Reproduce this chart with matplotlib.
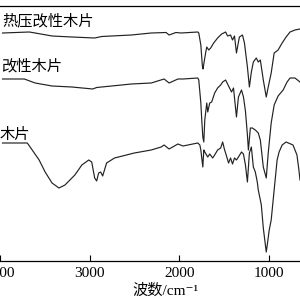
import matplotlib
matplotlib.use("Agg")
import matplotlib.pyplot as plt

plt.rcParams["font.family"] = ["Liberation Serif", "Noto Sans CJK SC", "DejaVu Sans"]

# 热压改性木片 (top curve)
wn_hot = [3972, 3674, 3608, 3420, 3199, 2945, 2867, 2536, 2315, 2149, 2116, 2039,
          1983, 1796, 1785, 1762, 1745, 1737, 1729, 1707, 1696, 1674, 1652, 1619,
          1575, 1530, 1486, 1464, 1431, 1409, 1387, 1365, 1343, 1332, 1298, 1276,
          1243, 1221, 1199, 1177, 1144, 1122, 1099, 1066, 1033, 1011, 978, 945,
          901, 856, 812, 768, 713, 657]
t_hot = [228, 229, 228, 225, 224, 223, 224.5, 226, 228, 228.5, 226, 228.5,
         228, 229, 228, 216, 195, 192, 197, 209, 214, 211, 213, 218,
         223, 227, 229, 225, 226, 221, 225, 208, 219, 224, 226, 218,
         194, 174, 189, 199, 203, 199, 201, 181, 164, 174, 188, 208,
         211, 218, 224, 229, 231, 232]

# 改性木片 (middle curve)
wn_mod = [3972, 3729, 3608, 3420, 3199, 2967, 2923, 2757, 2536, 2315, 2171, 2116,
          2017, 1961, 1796, 1785, 1762, 1751, 1740, 1729, 1718, 1696, 1685, 1663,
          1641, 1608, 1575, 1541, 1519, 1486, 1453, 1420, 1398, 1365, 1343, 1309,
          1287, 1265, 1243, 1232, 1210, 1188, 1155, 1122, 1099, 1066, 1033, 1011,
          978, 945, 901, 845, 801, 768, 713, 657]
t_mod = [182, 182, 178, 175, 174, 172, 173.5, 175, 177, 178, 182, 178,
         182, 182, 183, 181, 158, 140, 124, 119, 141, 158, 149, 158,
         159, 168, 173, 176, 179, 181, 175, 169, 173, 144, 164, 171,
         164, 150, 126, 111, 133, 133, 131, 128, 121, 94, 83, 108,
         138, 156, 165, 171, 179, 183, 183, 179]

# 木片 (bottom curve)
wn_raw = [3972, 3696, 3641, 3564, 3497, 3420, 3343, 3276, 3166, 3088, 3011, 2978,
          2945, 2923, 2901, 2878, 2856, 2812, 2724, 2503, 2315, 2204, 2171, 2116,
          2017, 1961, 1796, 1773, 1762, 1740, 1729, 1718, 1685, 1663, 1630, 1608,
          1575, 1541, 1519, 1497, 1486, 1453, 1431, 1409, 1387, 1365, 1343, 1309,
          1287, 1265, 1243, 1221, 1199, 1177, 1155, 1133, 1122, 1099, 1088, 1066,
          1033, 1022, 1000, 978, 956, 934, 912, 890, 856, 812, 735, 691, 669, 657]
t_raw = [118, 118, 111, 101, 89, 78, 73, 76, 86, 96, 101, 99,
         83, 80, 88, 89, 85, 98, 103, 108, 111, 114, 116, 112,
         117, 115, 118, 116, 111, 94, 111, 109, 104, 107, 103, 106,
         111, 113, 119, 111, 108, 98, 103, 97, 103, 101, 104, 109,
         107, 96, 79, 108, 114, 94, 89, 79, 71, 61, 56, 33,
         9, 16, 31, 41, 61, 81, 101, 109, 116, 119, 116, 106, 91, 81]

labels = ["热压改性木片", "改性木片", "木片"]
xticks = [4000, 3000, 2000, 1000]

fig = plt.figure(figsize=(3, 3), dpi=100)
ax = fig.add_axes([0, 0.13, 1, 0.85])

for wn, t in [(wn_hot, t_hot), (wn_mod, t_mod), (wn_raw, t_raw)]:
    ax.plot(wn, t, color="#222222", lw=0.85)

ax.set_xlim(3972, 657)
ax.set_ylim(0, 255)
ax.set_xticks(xticks)
ax.set_xticklabels([str(v) for v in xticks])
ax.set_yticks([])
ax.tick_params(axis="x", direction="in", length=4, width=0.8, pad=4, labelsize=11)
ax.spines["left"].set_visible(False)
ax.spines["right"].set_visible(False)
for s in ["top", "bottom"]:
    ax.spines[s].set_linewidth(0.9)

ax.text(0.007, 0.941, labels[0], transform=ax.transAxes, fontsize=11,
        va="center", ha="left", family="Noto Sans CJK SC")
ax.text(0.003, 0.765, labels[1], transform=ax.transAxes, fontsize=11,
        va="center", ha="left", family="Noto Sans CJK SC")
ax.text(0.0, 0.498, labels[2], transform=ax.transAxes, fontsize=11,
        va="center", ha="left", family="Noto Sans CJK SC")

ax.set_xlabel("波数/cm⁻¹", fontsize=11, va="center")
ax.xaxis.set_label_coords(0.55, -0.118)

fig.savefig("out.png", dpi=100)
